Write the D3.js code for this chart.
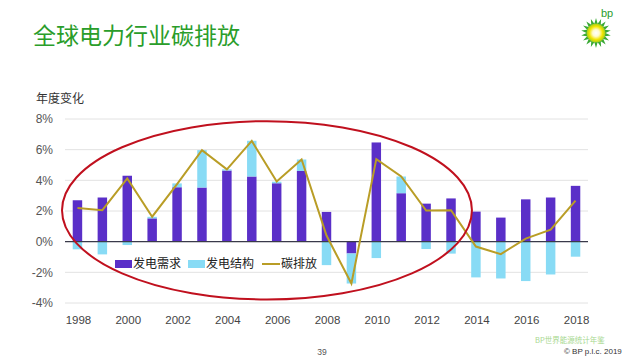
<!DOCTYPE html>
<html><head><meta charset="utf-8">
<script src="https://cdn.jsdelivr.net/npm/d3@7"></script>
<style>
html,body{margin:0;padding:0;background:#fff;}
svg{display:block;font-family:"Noto Sans CJK SC","Noto Sans",sans-serif;}
</style></head>
<body><svg id="c" width="640" height="360"></svg>
<script>
const years = [1998,1999,2000,2001,2002,2003,2004,2005,2006,2007,2008,2009,2010,2011,2012,2013,2014,2015,2016,2017,2018];
const demand    = [2.70,2.88,4.30,1.52,3.55,3.53,4.64,4.25,3.81,4.61,1.94,-0.77,6.47,3.16,2.48,2.82,1.96,1.57,2.76,2.88,3.64];
const structure = [-0.50,-0.83,-0.22,0.10,0.25,2.44,0.08,2.33,0.10,0.75,-1.53,-1.96,-1.07,1.09,-0.48,-0.78,-2.33,-2.40,-2.57,-2.14,-0.98];
const carbon    = [2.20,2.05,4.12,1.63,3.75,5.97,4.72,6.57,3.92,5.36,0.40,-2.73,5.38,4.25,2.03,2.05,-0.32,-0.81,0.20,0.78,2.68];
const yTicks = [-4,-2,0,2,4,6,8];
const xTickYears = [1998,2000,2002,2004,2006,2008,2010,2012,2014,2016,2018];
const seriesNames = ["发电需求","发电结构","碳排放"];
const highlight = {x0:1997.38, x1:2013.84, yTop:7.86, yBottom:-3.77};

const svg = d3.select("#c");
const colors = {demand:"#5a2fc8", structure:"#88dbf5", carbon:"#b99d26"};

// title
svg.append("text").attr("x",33).attr("y",44).attr("font-size",23).attr("fill","#2a9d2a")
  .text("全球电力行业碳排放");

// bp logo
const logo = svg.append("g").attr("transform","translate(596,33)");
const pts = [];
const nP = 18;
for(let i=0;i<nP*2;i++){
  const a = i*Math.PI/nP - Math.PI/2;
  const r = i%2===0 ? 15 : 9.5;
  pts.push([r*Math.cos(a), r*Math.sin(a)]);
}
logo.append("path").attr("d", d3.line().curve(d3.curveLinearClosed)(pts)).attr("fill","#3aa935");
const rg = svg.append("defs").append("radialGradient").attr("id","hg");
rg.append("stop").attr("offset","0%").attr("stop-color","#ffffff");
rg.append("stop").attr("offset","35%").attr("stop-color","#fffbd0");
rg.append("stop").attr("offset","70%").attr("stop-color","#f2e600");
rg.append("stop").attr("offset","100%").attr("stop-color","#9fcb1f");
logo.append("circle").attr("r",9.5).attr("fill","url(#hg)");
svg.append("text").attr("x",601).attr("y",17).attr("font-size",11).attr("fill","#2a9d2a")
  .attr("font-family","Liberation Sans, Arial, sans-serif").text("bp");

// scales
const x = d3.scaleBand().domain(years).range([65,588]).paddingInner(0.62).paddingOuter(0.31);
const y = d3.scaleLinear().domain([-4,8]).range([303,119]);
const xc = yr => x(yr) + x.bandwidth()/2;
const xLin = d3.scaleLinear().domain([1998,2018]).range([xc(1998), xc(2018)]);

// y axis label
svg.append("text").attr("x",36).attr("y",103).attr("font-size",12).attr("fill","#333").text("年度变化");

// gridlines
svg.append("g").selectAll("line").data(yTicks.filter(d=>d!==0)).join("line")
  .attr("x1",65).attr("x2",588).attr("y1",d=>y(d)).attr("y2",d=>y(d))
  .attr("stroke","#e2e2e2").attr("stroke-width",1);

// y tick labels
svg.append("g").selectAll("text").data(yTicks).join("text")
  .attr("x",53).attr("y",d=>y(d)).attr("dy","0.35em").attr("text-anchor","end")
  .attr("font-size",12).attr("fill","#555")
  .attr("font-family","Liberation Sans, Arial, sans-serif")
  .text(d=>d+"%");

// x tick labels
svg.append("g").selectAll("text").data(xTickYears).join("text")
  .attr("x",d=>xc(d)+1).attr("y",324).attr("text-anchor","middle")
  .attr("font-size",11.5).attr("fill","#444")
  .attr("font-family","Liberation Sans, Arial, sans-serif")
  .text(d=>d);

// stacked bars
const table = years.map((yr,i)=>({year:yr, demand:demand[i], structure:structure[i]}));
const stack = d3.stack().keys(["demand","structure"]).offset(d3.stackOffsetDiverging);
const layers = stack(table);
svg.append("g").selectAll("g").data(layers).join("g")
  .attr("fill",d=>colors[d.key])
  .selectAll("rect").data(d=>d).join("rect")
  .attr("x",d=>x(d.data.year)).attr("width",x.bandwidth())
  .attr("y",d=>y(Math.max(d[0],d[1]))).attr("height",d=>Math.abs(y(d[0])-y(d[1])));

// zero line
svg.append("line").attr("x1",65).attr("x2",588).attr("y1",y(0)).attr("y2",y(0))
  .attr("stroke","#3a3a4a").attr("stroke-width",1.2);

// carbon line
svg.append("path").datum(years.map((yr,i)=>[yr,carbon[i]]))
  .attr("fill","none").attr("stroke",colors.carbon).attr("stroke-width",2)
  .attr("d", d3.line().x(d=>xc(d[0])).y(d=>y(d[1])));

// highlight ellipse
const ex0 = xLin(highlight.x0), ex1 = xLin(highlight.x1);
const ey0 = y(highlight.yTop), ey1 = y(highlight.yBottom);
svg.append("ellipse").attr("cx",(ex0+ex1)/2).attr("cy",(ey0+ey1)/2)
  .attr("rx",(ex1-ex0)/2).attr("ry",(ey1-ey0)/2)
  .attr("fill","none").attr("stroke","#c0101e").attr("stroke-width",2);

// legend
const lg = svg.append("g").attr("font-size",12).attr("fill","#222");
lg.append("rect").attr("x",115).attr("y",260).attr("width",17).attr("height",8).attr("fill",colors.demand);
lg.append("text").attr("x",133).attr("y",264).attr("dy","0.36em").text(seriesNames[0]);
lg.append("rect").attr("x",188).attr("y",260).attr("width",17).attr("height",8).attr("fill",colors.structure);
lg.append("text").attr("x",206).attr("y",264).attr("dy","0.36em").text(seriesNames[1]);
lg.append("line").attr("x1",262).attr("x2",280).attr("y1",264).attr("y2",264).attr("stroke",colors.carbon).attr("stroke-width",2);
lg.append("text").attr("x",281).attr("y",264).attr("dy","0.36em").text(seriesNames[2]);

// footer
svg.append("text").attr("x",322).attr("y",355).attr("text-anchor","middle").attr("font-size",8.5).attr("fill","#555")
  .attr("font-family","Liberation Sans, Arial, sans-serif").text("39");
svg.append("text").attr("x",535).attr("y",343).attr("font-size",7.5).attr("fill","#a8d890").text("BP世界能源统计年鉴");
svg.append("text").attr("x",564).attr("y",354).attr("font-size",8).attr("fill","#333")
  .attr("font-family","Liberation Sans, Arial, sans-serif").text("© BP p.l.c. 2019");
</script></body></html>
